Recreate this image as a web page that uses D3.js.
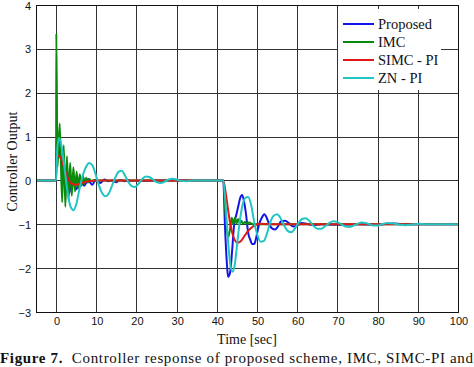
<!DOCTYPE html>
<html><head><meta charset="utf-8">
<script src="https://cdn.jsdelivr.net/npm/d3@7"></script>
<style>body{margin:0;background:#fff}svg{display:block}</style>
</head><body>
<script>
const xTicks = [0,10,20,30,40,50,60,70,80,90,100];
const yTicks = [-3,-2,-1,0,1,2,3,4];
const seriesNames = ["Proposed","IMC","SIMC - PI","ZN - PI"];
const seriesColors = ["#1414e6","#0a8a0a","#e01818","#22c4c4"];

const proposed = [[-5,0],[0,0],[0.15,0.9],[0.4,0.95],[0.8,0.7],[1.3,0.45],[1.8,0.2],[2.3,0.0],[2.8,-0.25],[3.2,-0.3],[3.6,-0.15],[4.0,0.05],[4.5,-0.05],[5.0,-0.2],[5.5,-0.1],[6.0,0.05],[6.5,-0.05],[7.0,-0.12],[7.5,-0.05],[8,0.03],[8.5,-0.05],[9,-0.1],[9.5,-0.03],[10,0.02],[10.5,-0.03],[11,-0.06],[12,0.02],[13,-0.02],[14,0.0],[15,-0.04],[16,0.01],[17,-0.02],[18,0],[20,-0.01],[25,0],[41.4,0],
[41.6,0],[42.0,-1.0],[42.5,-1.9],[42.8,-2.2],[43.3,-2.1],[43.8,-1.6],[44.3,-1.0],[44.8,-0.8],[45.3,-0.6],[45.8,-0.4],[46.3,-0.33],[46.8,-0.5],[47.3,-0.8],[47.8,-1.2],[48.3,-1.35],[48.8,-1.45],[49.3,-1.45],[49.8,-1.3],[50.5,-1.0],[51.2,-0.85],[51.8,-0.77],[52.4,-0.85],[53,-1.0],[53.8,-1.1],[54.5,-1.12],[55.2,-1.05],[56,-0.93],[57,-0.92],[58,-0.98],[59,-1.05],[60,-1.03],[61,-0.97],[62,-0.98],[63,-1.0],[64,-1.02],[66,-1.0],[70,-1.01],[75,-1.0],[80,-1.01],[84,-0.98],[86,-1.0],[100,-1.0]];

const imc = [[-5,0],[0,0],[0.05,3.35],[0.35,0.3],[0.9,1.3],[1.5,-0.5],[1.9,0.8],[2.3,-0.6],[2.7,0.55],[3.1,-0.45],[3.5,0.4],[3.9,-0.35],[4.3,0.3],[4.7,-0.25],[5.1,0.2],[5.5,-0.18],[5.9,0.14],[6.3,-0.12],[6.7,0.1],[7.1,-0.08],[7.5,0.06],[7.9,-0.05],[8.3,0.03],[8.8,-0.02],[9.5,0.01],[10,0],[41.4,0],
[41.6,0],[42.2,-0.8],[42.8,-1.3],[43.3,-1.1],[43.7,-0.85],[44.1,-1.0],[44.5,-0.85],[44.9,-0.98],[45.3,-0.88],[45.7,-0.98],[46.1,-0.92],[46.5,-0.99],[47,-0.95],[47.5,-0.99],[48,-0.96],[49,-1.0],[100,-1.0]];

const simc = [[-5,0],[0,0],[0.1,0.5],[0.6,0.56],[1.2,0.5],[1.8,0.35],[2.5,0.15],[3.2,0.0],[4.0,-0.08],[5.0,-0.1],[6.0,-0.07],[7.0,-0.04],[8,-0.02],[10,0],[41.4,0],
[41.6,0],[42.3,-0.35],[43.0,-0.8],[43.7,-1.15],[44.4,-1.35],[45.2,-1.42],[46,-1.38],[47,-1.25],[48,-1.13],[49,-1.05],[50,-1.0],[51,-0.99],[53,-1.0],[100,-1.0]];

const zn = [[-5,0],[0,0],[0.3,0.7],[0.7,0.97],[1.2,0.85],[1.8,0.5],[2.4,0.05],[3.0,-0.35],[3.6,-0.6],[4.3,-0.68],[5.0,-0.55],[5.8,-0.2],[6.6,0.1],[7.4,0.3],[8.2,0.4],[9.0,0.35],[9.8,0.15],[10.6,-0.1],[11.4,-0.28],[12.3,-0.36],[13.2,-0.28],[14,-0.1],[14.8,0.08],[15.6,0.2],[16.3,0.22],[17.1,0.12],[18,-0.04],[18.8,-0.13],[19.6,-0.15],[20.5,-0.08],[21.4,0.03],[22.3,0.09],[23.2,0.08],[24.1,0.02],[25,-0.04],[26,-0.06],[27,-0.03],[28,0.02],[29,0.04],[30,0.02],[31,-0.01],[32.5,-0.02],[34,0],[41.4,0],
[41.6,0],[42.2,-0.6],[42.8,-1.4],[43.4,-1.95],[43.9,-2.08],[44.4,-1.95],[45,-1.5],[45.6,-1.0],[46.3,-0.6],[47.1,-0.4],[47.8,-0.38],[48.5,-0.55],[49.3,-0.95],[50.1,-1.25],[50.9,-1.4],[51.7,-1.38],[52.5,-1.2],[53.3,-0.95],[54.2,-0.8],[55,-0.77],[55.8,-0.85],[56.7,-1.02],[57.6,-1.15],[58.5,-1.18],[59.4,-1.1],[60.3,-0.97],[61.2,-0.88],[62.1,-0.86],[63,-0.92],[64,-1.03],[65,-1.1],[66,-1.1],[67,-1.04],[68,-0.97],[69,-0.93],[70,-0.95],[71,-1.0],[72,-1.05],[73,-1.06],[74,-1.03],[75,-0.99],[76,-0.96],[77,-0.97],[78,-1.0],[79,-1.03],[80,-1.03],[81,-1.0],[82.5,-0.97],[84,-0.98],[85.5,-1.01],[87,-1.02],[89,-1.0],[90.5,-0.99],[92,-1.0],[100,-1.0]];

const allSeries = [proposed, imc, simc, zn];

const W = 474, H = 367;
const L = 36, R = 458, T = 5, B = 312;
const svg = d3.select("body").append("svg").attr("width", W).attr("height", H);
const x = d3.scaleLinear().domain([-5,100]).range([L,R]);
const y = d3.scaleLinear().domain([-3,4]).range([B,T]);

// grid
const g = svg.append("g");
g.selectAll(".vg").data(xTicks).enter().append("line")
  .attr("x1", d=>Math.round(x(d))+0.5).attr("x2", d=>Math.round(x(d))+0.5).attr("y1", T).attr("y2", B)
  .attr("stroke", "#333").attr("stroke-width", 1);
g.selectAll(".hg").data(yTicks).enter().append("line")
  .attr("x1", L).attr("x2", R).attr("y1", d=>Math.round(y(d))+0.5).attr("y2", d=>Math.round(y(d))+0.5)
  .attr("stroke", "#333").attr("stroke-width", 1);

// series
const line = d3.line().x(d=>x(d[0])).y(d=>y(d[1])).curve(d3.curveMonotoneX);
svg.append("clipPath").attr("id","c").append("rect").attr("x",L).attr("y",T).attr("width",R-L).attr("height",B-T);
allSeries.forEach((s,i)=>{
  svg.append("path").datum(s).attr("d", line).attr("fill","none")
    .attr("stroke", seriesColors[i]).attr("stroke-width", 2).attr("clip-path","url(#c)");
});

// legend
const lg = svg.append("g");
lg.append("rect").attr("x",338).attr("y",9).attr("width",103).attr("height",81).attr("fill","#fff");
seriesNames.forEach((n,i)=>{
  const yy = 24 + i*18;
  lg.append("line").attr("x1",343).attr("x2",374).attr("y1",yy).attr("y2",yy)
    .attr("stroke",seriesColors[i]).attr("stroke-width",2);
  lg.append("text").attr("x",378).attr("y",yy+5).text(n)
    .attr("font-family","Liberation Serif, Times New Roman, serif").attr("font-size",14.5).attr("fill","#111");
});

// border
svg.append("rect").attr("x",L+0.5).attr("y",T+0.5).attr("width",R-L).attr("height",B-T)
  .attr("fill","none").attr("stroke","#111").attr("stroke-width",1);

// axes labels
const xAxis = d3.axisBottom(x).tickValues(xTicks).tickSize(0).tickPadding(5).tickFormat(d3.format("d"));
const ax = svg.append("g").attr("transform",`translate(0.5,${B})`).call(xAxis);
ax.select(".domain").remove();
ax.selectAll("text").attr("font-family","Liberation Sans, Arial, sans-serif").attr("font-size",11).attr("fill","#111");
const yAxis = d3.axisLeft(y).tickValues(yTicks).tickSize(0).tickPadding(5).tickFormat(d3.format("d"));
const ay = svg.append("g").attr("transform",`translate(${L},0.5)`).call(yAxis);
ay.select(".domain").remove();
ay.selectAll("text").attr("font-family","Liberation Sans, Arial, sans-serif").attr("font-size",11).attr("fill","#111");

svg.append("text").attr("x",(L+R)/2).attr("y",344).attr("text-anchor","middle")
  .attr("font-family","Liberation Serif, Times New Roman, serif").attr("font-size",14).attr("fill","#111").text("Time [sec]");
svg.append("text").attr("transform",`translate(17,${(T+B)/2+3}) rotate(-90)`).attr("text-anchor","middle")
  .attr("font-family","Liberation Serif, Times New Roman, serif").attr("font-size",14).attr("fill","#111").text("Controller Output");

const cap = svg.append("text").attr("x",0).attr("y",363)
  .attr("font-family","Liberation Serif, Times New Roman, serif").attr("font-size",15).attr("fill","#111")
  .attr("textLength",473).attr("lengthAdjust","spacing");
cap.append("tspan").attr("font-weight","bold").text("Figure 7.");
cap.append("tspan").text("\u00a0\u00a0Controller response of proposed scheme, IMC, SIMC-PI and");
</script>
</body></html>
